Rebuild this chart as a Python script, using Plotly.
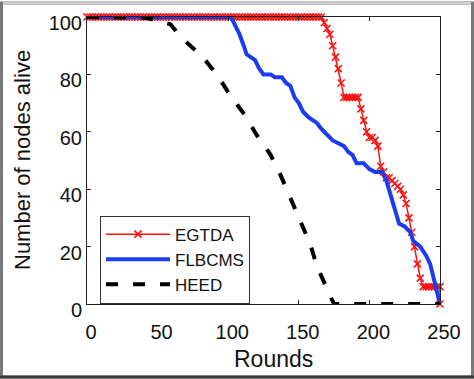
import plotly.graph_objects as go

# ---- data ----
egtda_rounds = list(range(0, 251, 2)) + [250]
egtda_alive = [
    100, 100, 100, 100, 100, 100, 100, 100, 100, 100,   # 0-18
    100, 100, 100, 100, 100, 100, 100, 100, 100, 100,   # 20-38
    100, 100, 100, 100, 100, 100, 100, 100, 100, 100,   # 40-58
    100, 100, 100, 100, 100, 100, 100, 100, 100, 100,   # 60-78
    100, 100, 100, 100, 100, 100, 100, 100, 100, 100,   # 80-98
    100, 100, 100, 100, 100, 100, 100, 100, 100, 100,   # 100-118
    100, 100, 100, 100, 100, 100, 100, 100, 100, 100,   # 120-138
    100, 100, 100, 100, 100, 100, 100, 100, 100, 100,   # 140-158
    100, 100, 100, 100, 98, 96, 94, 90, 86, 82,         # 160-178
    77, 72, 72, 72, 72, 72, 72, 68, 64, 60,             # 180-198
    58, 58, 57, 55, 48, 46, 44, 44, 43, 42,             # 200-218
    41, 40, 38, 35, 30, 25, 20, 14, 9, 6,               # 220-238
    6, 6, 6, 6, 6, 6,                                   # 240-250
    0,
]

flbcms_rounds = [0, 102, 105, 108, 111, 113, 116, 119, 122, 125, 130, 133, 138,
                 141, 144, 147, 150, 153, 157, 160, 163, 166, 170, 174, 178,
                 182, 185, 188, 191, 196, 200, 204, 209, 212, 215, 218, 221,
                 225, 229, 231, 236, 240, 243, 245, 247, 250]
flbcms_alive = [100, 100, 97, 94, 90, 87, 86, 85, 82, 80, 80, 79, 79,
                77, 76, 72, 70, 67, 65, 64, 63, 61, 59, 57, 56,
                55, 53, 52, 49, 49, 47, 46, 46, 43, 38, 33, 28,
                27, 25, 22, 20, 17, 14, 10, 6, 0]

heed_rounds = [0, 35, 42, 52, 59, 67, 75, 82, 92, 101, 113, 120, 130, 137,
               144, 151, 158, 163, 169, 173, 175, 250]
heed_alive = [100, 100, 99.7, 98.5, 97.5, 92.8, 89, 86, 80, 73, 65, 59, 52, 45,
              37, 29, 21, 13, 6, 2, 0, 0]

x_ticks = [0, 50, 100, 150, 200, 250]
y_ticks = [0, 20, 40, 60, 80, 100]
x_title = "Rounds"
y_title = "Number of nodes alive"

FONT = "Liberation Sans, Arial, sans-serif"

fig = go.Figure()
fig.add_trace(go.Scatter(
    x=egtda_rounds, y=egtda_alive, name="EGTDA", mode="lines+markers",
    line=dict(color="#ff1010", width=1.5),
    marker=dict(symbol="x-thin", size=7, line=dict(color="#ff1010", width=1.6)),
    cliponaxis=False,
))
fig.add_trace(go.Scatter(
    x=flbcms_rounds, y=flbcms_alive, name="FLBCMS", mode="lines",
    line=dict(color="#1c3cf2", width=4), cliponaxis=False,
))
fig.add_trace(go.Scatter(
    x=heed_rounds, y=heed_alive, name="HEED", mode="lines",
    line=dict(color="black", width=4, dash="12px,15px"), cliponaxis=False,
))

L, R, T, B = 87, 34, 15, 75
W, H = 474, 379
pw, ph = W - L - R, H - T - B

def px2paper_x(px):
    return (px - L) / pw

def py2paper_y(py):
    return (H - B - py) / ph

axis_common = dict(
    showline=True, linecolor="#222", linewidth=1, mirror="ticks",
    ticks="inside", ticklen=4, tickcolor="#222", showgrid=False,
    zeroline=False, tickfont=dict(family=FONT, size=20, color="#111"),
)

fig.update_layout(
    width=W, height=H,
    margin=dict(l=L, r=R, t=T, b=B, pad=0),
    paper_bgcolor="white", plot_bgcolor="white",
    xaxis=dict(range=[0, 250], tickvals=x_ticks, ticklabelshift=4,
               ticklabelstandoff=10, **axis_common),
    yaxis=dict(range=[0, 100], tickvals=y_ticks, ticklabelshift=6,
               **axis_common),
    showlegend=True,
    legend=dict(
        x=px2paper_x(100), y=py2paper_y(215), xanchor="left", yanchor="top",
        bgcolor="white", bordercolor="#333", borderwidth=1,
        font=dict(family=FONT, size=17, color="#111"),
        itemwidth=64, tracegroupgap=0,
    ),
    annotations=[
        dict(text=x_title, xref="paper", yref="paper",
             x=px2paper_x(273), y=py2paper_y(359), showarrow=False,
             xanchor="center", yanchor="middle",
             font=dict(family=FONT, size=23, color="#111")),
        dict(text=y_title, xref="paper", yref="paper", textangle=-90,
             x=px2paper_x(22), y=py2paper_y(159), showarrow=False,
             xanchor="center", yanchor="middle",
             font=dict(family=FONT, size=22, color="#111")),
    ],
    shapes=[
        dict(type="rect", xref="paper", yref="paper",
             x0=px2paper_x(1.5), x1=px2paper_x(472.5),
             y0=py2paper_y(377.5), y1=py2paper_y(1),
             line=dict(color="#7a7a7a", width=3), layer="below"),
        dict(type="line", xref="paper", yref="paper",
             x0=px2paper_x(0), x1=px2paper_x(474),
             y0=py2paper_y(377.5), y1=py2paper_y(377.5),
             line=dict(color="#3a3a3a", width=3)),
        dict(type="line", xref="paper", yref="paper",
             x0=px2paper_x(3), x1=px2paper_x(471),
             y0=py2paper_y(1), y1=py2paper_y(1),
             line=dict(color="#d0d0d0", width=2)),
    ],
)

fig.write_html(
    "out.html",
    config={"displayModeBar": False},
    post_script="document.body.style.margin='0';document.body.style.padding='0';",
)
